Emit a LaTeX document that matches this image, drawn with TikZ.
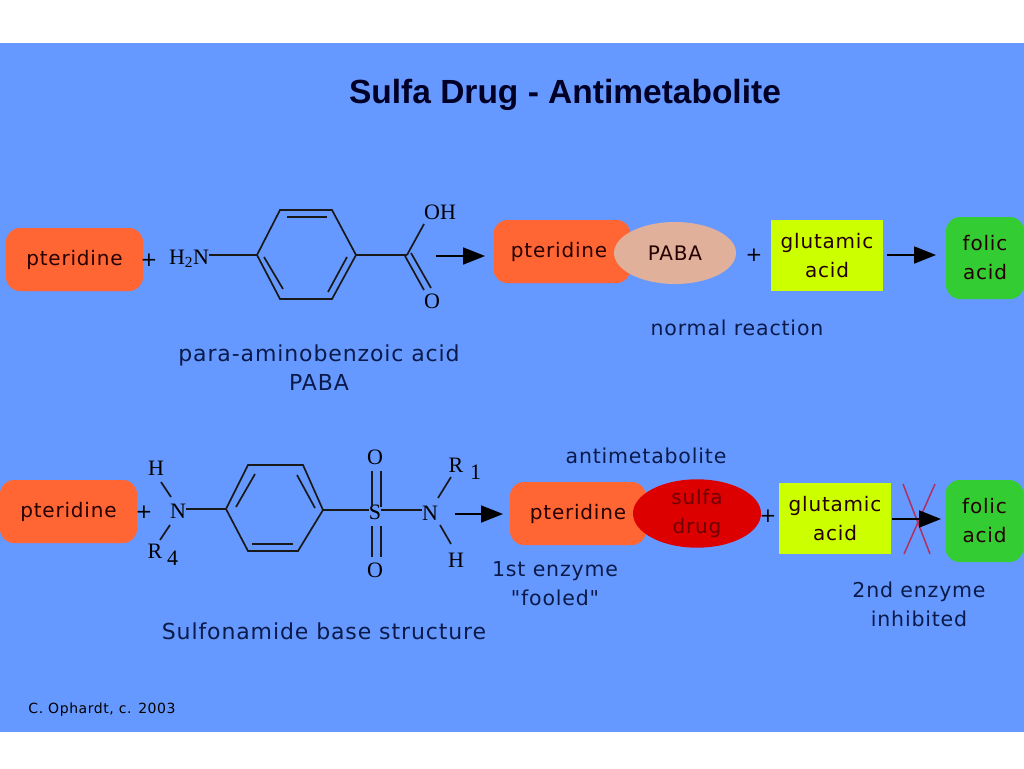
\documentclass[tikz,border=0pt]{standalone}
\usepackage{fontspec}
\setmainfont[LetterSpace=4]{DejaVu Sans}
\newfontfamily\rawfont[LetterSpace=4]{DejaVu Sans}
\newfontfamily\chemfont{Liberation Serif}
\newfontfamily\headfont{Liberation Sans}
\usetikzlibrary{arrows.meta,calc,shapes.geometric}
\definecolor{bgc}{RGB}{102,153,255}
\definecolor{inkc}{RGB}{10,26,74}
\definecolor{ptec}{RGB}{255,102,51}
\definecolor{pabac}{RGB}{224,176,154}
\definecolor{sulc}{RGB}{221,0,0}
\definecolor{sultx}{RGB}{110,0,0}
\definecolor{gluc}{RGB}{204,255,0}
\definecolor{folc}{RGB}{51,204,51}
\definecolor{crossc}{RGB}{176,48,96}
\tikzset{
  lbl/.style={inner sep=0pt,text=inkc,align=center,font=\fontsize{20.5}{29}\selectfont},
  biglbl/.style={lbl,font=\fontsize{22}{29}\selectfont},
  boxlbl/.style={inner sep=0pt,align=center,text=black!85!red,font=\fontsize{20}{29}\selectfont},
  ptebox/.style={boxlbl,fill=ptec,rounded corners=14pt,minimum width=137pt,minimum height=63pt},
  glubox/.style={boxlbl,fill=gluc,minimum width=112pt,minimum height=71pt},
  folbox/.style={boxlbl,fill=folc,rounded corners=14pt,minimum width=78pt,minimum height=82pt},
  atom/.style={inner sep=0pt,text=black,font=\chemfont\fontsize{22}{22}\selectfont},
  bond/.style={line width=1.7pt,black!90},
  plus/.style={inner sep=0pt,text=black,font=\fontsize{20}{20}\selectfont},
  rxn/.style={line width=1.8pt,black,-{Triangle[length=22pt,width=17pt]}},
}
\begin{document}
\begin{tikzpicture}[x=1pt,y=-1pt]
  \useasboundingbox (0,0) rectangle (1024,768);
  \fill[white] (0,0) rectangle (1024,768);
  \fill[bgc] (0,43) rectangle (1024,732);
  \node[inner sep=0pt,text=black!85!blue,font=\headfont\bfseries\fontsize{33.5}{33.5}\selectfont] (title) at (565,95) {Sulfa Drug - Antimetabolite};

  % normal reaction, top row
  \node[ptebox] (pte1) at (74.5,259.5) {pteridine};
  \node[plus] (plus1) at (149,260) {+};
  \node[atom] (hn) at (189,259) {H\textsubscript{2}N};
  \foreach \n/\x/\y in {a/257/255,b/280/210,c/332/210,d/356/255,e/332/299,f/280/299}
    \coordinate (r\n) at (\x,\y);
  \draw[bond] (ra)--(rb)--(rc)--(rd)--(re)--(rf)--cycle;
  \coordinate (ca) at (407,255);
  \node[atom] (oh) at (440,212) {OH};
  \node[atom] (oa) at (432,301) {O};
  \draw[bond] (hn.east |- ra)--(ra);
  \draw[bond] (rd)--(ca);
  \draw[bond] (ca)--(424,224);
  \draw[bond] (405,256)--(424,290);
  \draw[bond] (411,253)--(431,288);
  \draw[bond] (287,217)--(327,217);
  \draw[bond] (264,257)--(283,289);
  \draw[bond] (347,257)--(328,292);
  \coordinate (ar1a) at (436,256);
  \coordinate (ar1b) at (485,256);
  \draw[rxn] (ar1a)--(ar1b);
  \node[ptebox] (pte2) at (562,251.5) {\hspace*{-3pt}pteridine\hspace*{3pt}};
  \node[boxlbl,ellipse,fill=pabac,minimum width=122pt,minimum height=62pt] (paba) at (675,253) {PABA};
  \node[plus] (plus2) at (754,255) {+};
  \node[glubox] (glu1) at (827,255.5) {glutamic\\acid};
  \node[folbox] (fol1) at (985,258) {folic\\acid};
  \coordinate (ar2a) at (887,255);
  \coordinate (ar2b) at (936,255);
  \draw[rxn] (ar2a)--(ar2b);
  \node[lbl] (norm) at (737,328) {normal reaction};
  \node[biglbl] (pabtxt) at (319,368) {para-aminobenzoic acid\\PABA};

  % antimetabolite, bottom row
  \node[ptebox] (pte3) at (68.5,511.5) {pteridine};
  \node[plus] (plus3) at (144,512) {+};
  \node[atom] (nl) at (178,511) {N};
  \node[atom] (hl) at (156,468) {H};
  \node[atom] (rl) at (155,551) {R};
  \node[atom,anchor=west] (rlb) at (167,558) {4};
  \draw[bond] (161,482)--(171,497);
  \draw[bond] (170,525)--(160,540);
  \foreach \n/\x/\y in {a/226/509,b/248/465,c/303/465,d/323/510,e/298/551,f/248/551}
    \coordinate (s\n) at (\x,\y);
  \draw[bond] (sa)--(sb)--(sc)--(sd)--(se)--(sf)--cycle;
  \draw[bond] (236,507)--(255,474);
  \draw[bond] (315,508)--(297,475);
  \draw[bond] (252,544)--(293,544);
  \draw[bond] (nl.east |- sa)--(sa);
  \node[atom] (sx) at (375,512) {S};
  \node[atom] (ot) at (375,457) {O};
  \node[atom] (ob) at (375,570) {O};
  \draw[bond] (sd)--(sd -| sx.west);
  \foreach \x in {372,381} {
    \draw[bond] (\x,471)--(\x,507);
    \draw[bond] (\x,526)--(\x,557);
  }
  \node[atom] (nr) at (430,513) {N};
  \node[atom] (r1) at (456,465) {R};
  \node[atom,anchor=west] (r1b) at (470,472) {1};
  \node[atom] (hr) at (456,560) {H};
  \draw[bond] (sx.east |- sd)--(nr.west |- sd);
  \draw[bond] (438,498)--(451,477);
  \draw[bond] (440,525)--(451,544);
  \coordinate (ar3a) at (455,514);
  \coordinate (ar3b) at (503,514);
  \draw[rxn] (ar3a)--(ar3b);
  \node[ptebox,minimum width=136pt] (pte4) at (578,513.5) {pteridine};
  \node[boxlbl,ellipse,fill=sulc,text=sultx,minimum width=128pt,minimum height=66pt] (sulfa) at (697,513.5) {sulfa\\drug};
  \node[plus] (plus4) at (768,516) {+};
  \node[glubox] (glu2) at (835,518.5) {glutamic\\acid};
  \node[folbox] (fol2) at (984.5,521) {folic\\acid};
  \coordinate (xa) at (903,484);
  \coordinate (xb) at (930,554);
  \coordinate (xc) at (935,484);
  \coordinate (xd) at (904,554);
  \draw[crossc,line width=1.5pt] (xa)--(xb) (xc)--(xd);
  \coordinate (ar4a) at (892,519);
  \coordinate (ar4b) at (941,519);
  \draw[rxn] (ar4a)--(ar4b);
  \node[lbl] (anti) at (646,456) {antimetabolite};
  \node[lbl] (enz1) at (555,584) {1st enzyme\\{\rawfont "fooled"}};
  \node[lbl] (enz2) at (919,604.5) {2nd enzyme\\inhibited};
  \node[biglbl] (sulf) at (324,631) {Sulfonamide base structure};
  \node[inner sep=0pt,text=black,font=\fontsize{14}{14}\selectfont] (cred) at (102,710) {C. Ophardt, c. 2003};
\end{tikzpicture}
\end{document}
